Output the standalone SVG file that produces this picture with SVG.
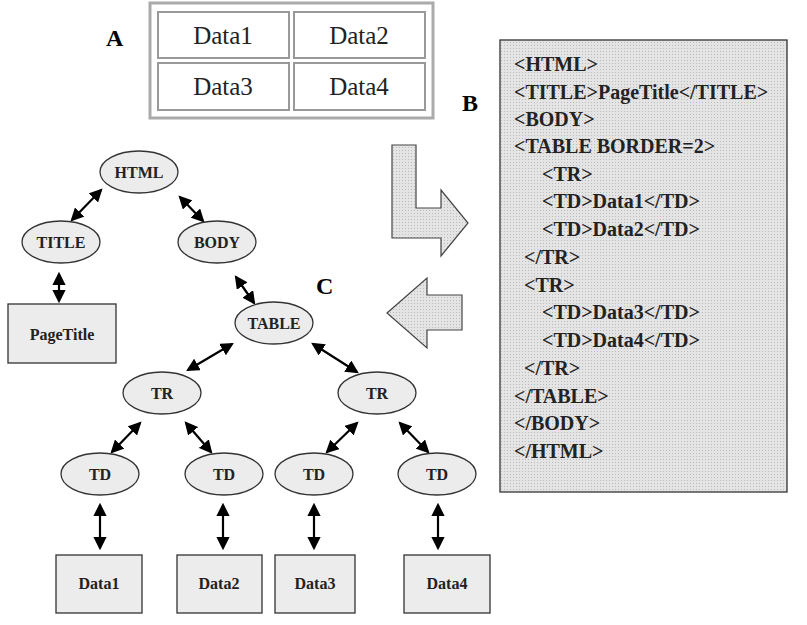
<svg xmlns="http://www.w3.org/2000/svg" width="807" height="625" viewBox="0 0 807 625">
<defs>
<marker id="ah" markerWidth="6" markerHeight="6" refX="5" refY="3" orient="auto-start-reverse" markerUnits="strokeWidth"><path d="M0,0 L6,3 L0,6 Z" fill="#000"/></marker>
<pattern id="dots" width="3" height="3" patternUnits="userSpaceOnUse"><rect width="3" height="3" fill="#e4e4e4"/><rect width="1" height="1" fill="#bbb"/></pattern>
</defs>
<style>
.n{fill:#ececec;stroke:#333;stroke-width:1.3}
.t{font-family:"Liberation Serif","Times New Roman",serif;font-weight:bold;font-size:16px;text-anchor:middle;fill:#222}
.c{font-family:"Liberation Serif","Times New Roman",serif;font-size:25px;text-anchor:middle;fill:#222}
.code{font-family:"Liberation Serif","Times New Roman",serif;font-size:20px;font-weight:bold;fill:#222}
.lbl{font-family:"Liberation Serif",serif;font-weight:bold;font-size:24px;fill:#000}
.e line{stroke:#000;stroke-width:2.2;marker-start:url(#ah);marker-end:url(#ah)}
</style>
<rect width="807" height="625" fill="#fff"/>
<g id="tableA">
<rect x="150" y="3" width="283" height="115" fill="#fff" stroke="#aaa" stroke-width="3"/>
<rect x="158" y="12" width="131" height="46" fill="#fff" stroke="#999" stroke-width="2"/>
<rect x="294" y="12" width="131" height="46" fill="#fff" stroke="#999" stroke-width="2"/>
<rect x="158" y="63" width="131" height="47" fill="#fff" stroke="#999" stroke-width="2"/>
<rect x="294" y="63" width="131" height="47" fill="#fff" stroke="#999" stroke-width="2"/>
<text class="c" x="223" y="44">Data1</text>
<text class="c" x="359" y="44">Data2</text>
<text class="c" x="223" y="95">Data3</text>
<text class="c" x="359" y="95">Data4</text>
</g>
<text class="lbl" x="106" y="46">A</text>
<text class="lbl" x="462" y="111">B</text>
<text class="lbl" x="316" y="294">C</text>
<g id="codeB">
<rect x="500" y="40" width="287" height="452" fill="url(#dots)" stroke="#333" stroke-width="1.3"/>
<text class="code" x="514" y="71">&lt;HTML&gt;</text>
<text class="code" x="514" y="99">&lt;TITLE&gt;PageTitle&lt;/TITLE&gt;</text>
<text class="code" x="514" y="126">&lt;BODY&gt;</text>
<text class="code" x="514" y="153">&lt;TABLE BORDER=2&gt;</text>
<text class="code" x="542" y="181">&lt;TR&gt;</text>
<text class="code" x="542" y="208">&lt;TD&gt;Data1&lt;/TD&gt;</text>
<text class="code" x="542" y="236">&lt;TD&gt;Data2&lt;/TD&gt;</text>
<text class="code" x="524" y="264">&lt;/TR&gt;</text>
<text class="code" x="524" y="292">&lt;TR&gt;</text>
<text class="code" x="542" y="319">&lt;TD&gt;Data3&lt;/TD&gt;</text>
<text class="code" x="542" y="347">&lt;TD&gt;Data4&lt;/TD&gt;</text>
<text class="code" x="524" y="375">&lt;/TR&gt;</text>
<text class="code" x="514" y="403">&lt;/TABLE&gt;</text>
<text class="code" x="514" y="430">&lt;/BODY&gt;</text>
<text class="code" x="514" y="458">&lt;/HTML&gt;</text>
</g>
<g id="bigArrows" fill="url(#dots)" stroke="#444" stroke-width="1.2">
<path d="M392,145 H416 V208 H441 V190 L468,223 L441,256 V238 H392 Z"/>
<path d="M387,313 L427,278 V295 H462 V330 H427 V348 Z"/>
</g>
<g id="connectors" class="e">
<line x1="101" y1="190" x2="72" y2="220"/>
<line x1="180" y1="197" x2="203" y2="221"/>
<line x1="59" y1="274" x2="59" y2="301"/>
<line x1="236" y1="277" x2="254" y2="303"/>
<line x1="232" y1="344" x2="188" y2="370"/>
<line x1="313" y1="344" x2="357" y2="372"/>
<line x1="140" y1="423" x2="112" y2="452"/>
<line x1="186" y1="423" x2="211" y2="452"/>
<line x1="357" y1="423" x2="327" y2="452"/>
<line x1="400" y1="423" x2="428" y2="452"/>
<line x1="100" y1="505" x2="100" y2="548"/>
<line x1="223" y1="505" x2="223" y2="548"/>
<line x1="314" y1="505" x2="314" y2="548"/>
<line x1="438" y1="505" x2="438" y2="548"/>
</g>
<g id="HTML"><ellipse class="n" cx="139" cy="172" rx="39" ry="21"/><text class="t" x="139" y="178">HTML</text></g>
<g id="TITLE"><ellipse class="n" cx="61" cy="242" rx="39" ry="21"/><text class="t" x="61" y="248">TITLE</text></g>
<g id="BODY"><ellipse class="n" cx="217" cy="242" rx="39" ry="21"/><text class="t" x="217" y="248">BODY</text></g>
<g id="PageTitle"><rect class="n" x="8" y="304" width="108" height="59"/><text class="t" x="62" y="340" font-size="19">PageTitle</text></g>
<g id="TABLE"><ellipse class="n" cx="274" cy="323" rx="39" ry="21"/><text class="t" x="274" y="329">TABLE</text></g>
<g id="TR1"><ellipse class="n" cx="162" cy="393" rx="39" ry="21"/><text class="t" x="162" y="399">TR</text></g>
<g id="TR2"><ellipse class="n" cx="377" cy="393" rx="39" ry="21"/><text class="t" x="377" y="399">TR</text></g>
<g id="TD1"><ellipse class="n" cx="100" cy="474" rx="39" ry="21"/><text class="t" x="100" y="480">TD</text></g>
<g id="TD2"><ellipse class="n" cx="224" cy="474" rx="39" ry="21"/><text class="t" x="224" y="480">TD</text></g>
<g id="TD3"><ellipse class="n" cx="314" cy="474" rx="39" ry="21"/><text class="t" x="314" y="480">TD</text></g>
<g id="TD4"><ellipse class="n" cx="437" cy="474" rx="39" ry="21"/><text class="t" x="437" y="480">TD</text></g>
<g id="D1"><rect class="n" x="56" y="555" width="86" height="58"/><text class="t" x="99" y="589">Data1</text></g>
<g id="D2"><rect class="n" x="177" y="555" width="85" height="58"/><text class="t" x="219" y="589">Data2</text></g>
<g id="D3"><rect class="n" x="275" y="555" width="80" height="58"/><text class="t" x="315" y="589">Data3</text></g>
<g id="D4"><rect class="n" x="404" y="555" width="86" height="58"/><text class="t" x="447" y="589">Data4</text></g>
</svg>
